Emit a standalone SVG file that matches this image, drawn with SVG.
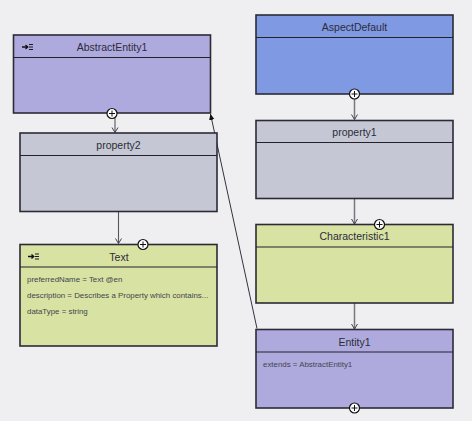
<svg xmlns="http://www.w3.org/2000/svg" width="474" height="425" viewBox="0 0 474 425">
<style>
text{font-family:"Liberation Sans",Arial,sans-serif;fill:#2c2c3a}
.t{font-size:10.5px;text-anchor:middle}
.p{font-size:7.9px;fill:#444450}
.b{stroke:#2b2b36;stroke-width:1.6}
.h{stroke:#22222c;stroke-width:1.1}
.e{fill:#aeaade}.g{fill:#c5c8d4}.y{fill:#d8e2a2}.a{fill:#7f99e3}
.c{stroke:#555560;stroke-width:1.1;fill:none}
.r{stroke:#77777f;stroke-width:1.5;fill:none}
.x{fill:#fff;stroke:#111;stroke-width:1.2}
.l{stroke:#111;stroke-width:1;fill:none}
.i{stroke:#1a1a24;stroke-width:1;fill:none}
</style>
<defs>
<marker id="o" markerWidth="8" markerHeight="8" refX="6" refY="3.5" orient="auto" markerUnits="userSpaceOnUse"><path d="M1 .5L6 3.5L1 6.5" fill="none" stroke="#444450" stroke-width="1"/></marker>
<marker id="f" markerWidth="8" markerHeight="6" refX="6" refY="2.750" orient="auto" markerUnits="userSpaceOnUse"><path d="M0 0L6 2.750L0 5.500Z" fill="#111"/></marker>
<g id="plus"><circle r="5" class="x"/><path d="M-3 0H3M0-3V3" class="l"/></g>
<g id="ico"><path d="M0 0H5M3.500-2L5.800 0L3.500 2" fill="none" stroke="#111" stroke-width="1.300"/><path d="M7-2.500H11M7 0H11M7 2.500H11" class="i"/></g>
</defs>
<rect width="474" height="425" fill="#fff"/>
<rect width="472" height="421" fill="#efeff1"/>
<g id="connectors">
<path class="c" d="M115 113V132.500" marker-end="url(#o)"/>
<path class="c" d="M118.500 211V243.500" marker-end="url(#o)"/>
<path class="r" d="M354.500 94V119.500" marker-end="url(#o)"/>
<path class="r" d="M354.500 198V224" marker-end="url(#o)"/>
<path class="r" d="M354.500 303V329" marker-end="url(#o)"/>
<path d="M257 328.500L210.500 114" fill="none" stroke="#333340" stroke-width="1" marker-end="url(#f)"/>
</g>
<g id="AbstractEntity1">
<rect class="e b" x="13.500" y="35" width="197" height="78"/>
<path class="h" d="M13.500 57.500H210.500"/>
<use href="#ico" x="22" y="47"/>
<text class="t" x="112" y="50.500">AbstractEntity1</text>
<use href="#plus" x="112" y="113.500"/>
</g>
<g id="property2">
<rect class="g b" x="20" y="133" width="197" height="78.500"/>
<path class="h" d="M20 155.500H217"/>
<text class="t" x="118.500" y="149">property2</text>
</g>
<g id="Text">
<rect class="y b" x="20" y="244.500" width="197" height="101.500"/>
<path class="h" d="M20 267H217"/>
<use href="#ico" x="28" y="256.500"/>
<text class="t" x="119" y="260.500">Text</text>
<text class="p" x="27" y="281.500">preferredName = Text @en</text>
<text class="p" x="27" y="298">description = Describes a Property which contains...</text>
<text class="p" x="27" y="314">dataType = string</text>
<use href="#plus" x="143" y="244.500"/>
</g>
<g id="AspectDefault">
<rect class="a b" x="256" y="15" width="197" height="79"/>
<path class="h" d="M256 37.500H453"/>
<text class="t" x="354.500" y="30.500">AspectDefault</text>
<use href="#plus" x="354.500" y="94"/>
</g>
<g id="property1">
<rect class="g b" x="256" y="120.500" width="197" height="78"/>
<path class="h" d="M256 142.500H453"/>
<text class="t" x="354.500" y="135.500">property1</text>
</g>
<g id="Characteristic1">
<rect class="y b" x="256" y="224.500" width="197" height="78.500"/>
<path class="h" d="M256 247H453"/>
<text class="t" x="354.500" y="240">Characteristic1</text>
<use href="#plus" x="379.500" y="224.500"/>
</g>
<g id="Entity1">
<rect class="e b" x="256" y="329.500" width="197" height="78.500"/>
<path class="h" d="M256 352H453"/>
<text class="t" x="354.500" y="345.500">Entity1</text>
<text class="p" x="263" y="367">extends = AbstractEntity1</text>
<use href="#plus" x="354.500" y="408"/>
</g>
</svg>
